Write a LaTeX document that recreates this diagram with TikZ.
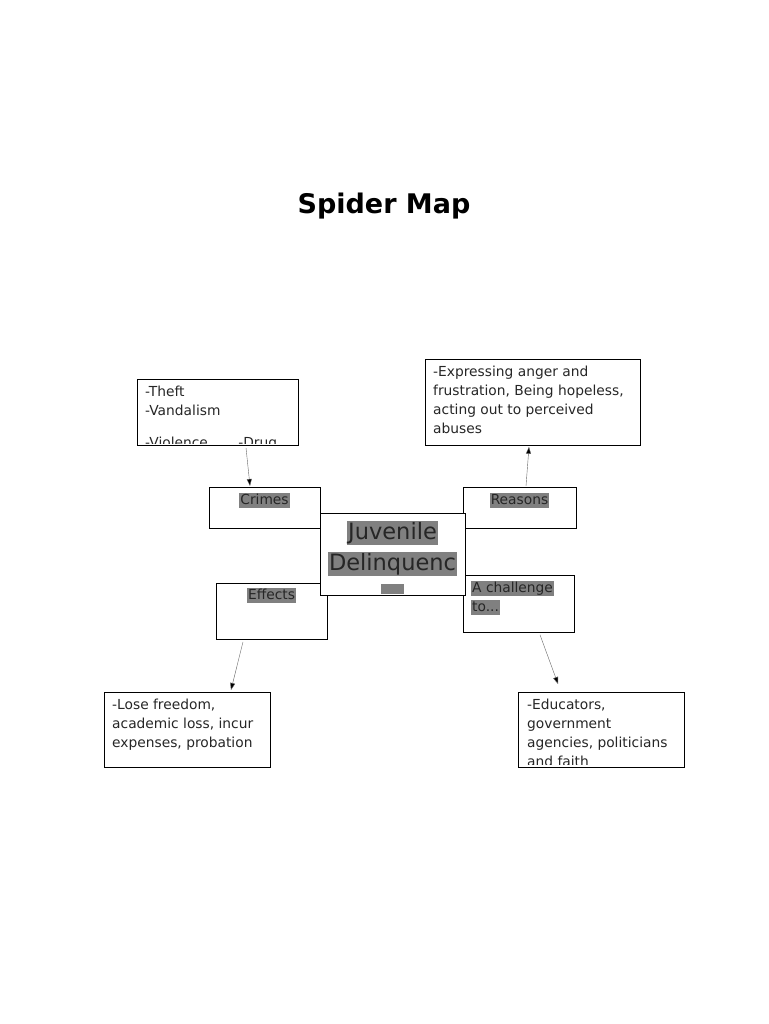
\documentclass[tikz,border=0pt]{standalone}
\usepackage{fontspec}
\setmainfont{DejaVu Sans}
\usetikzlibrary{arrows.meta,calc}
\newcommand{\hl}[1]{{\setlength\fboxsep{1pt}\colorbox{hlgray}{\vphantom{Jg}#1}}}
\definecolor{hlgray}{HTML}{808080}
\begin{document}
\begin{tikzpicture}[x=1pt,y=-1pt,
  box/.style={draw, line width=0.8pt, anchor=north west, inner sep=0pt},
  txt/.style={anchor=base west, inner sep=0pt, font=\fontsize{13.8}{19}\selectfont, text=black!85},
  big/.style={font=\fontsize{22.5}{28}\selectfont},
  conn/.style={draw=black!60, line width=0.4pt, -{Triangle[length=7pt,width=5pt,fill=black]}}]
\useasboundingbox (0,0) rectangle (768,1024);
\node[font=\bfseries\fontsize{27}{32}\selectfont] (title) at (384,206) {Spider Map};

% boxes
\node[box, minimum width=161pt, minimum height=66pt] (theft) at (137,379) {};
\node[box, minimum width=215pt, minimum height=86pt] (reasonsT) at (425,359) {};
\node[box, minimum width=111pt, minimum height=41pt] (crimes) at (209,487) {};
\node[box, minimum width=113pt, minimum height=41pt] (reasons) at (463,487) {};
\node[box, minimum width=111pt, minimum height=56pt] (effects) at (216,583) {};
\node[box, minimum width=111pt, minimum height=57pt] (challenge) at (463,575) {};
\node[box, fill=white, minimum width=145pt, minimum height=82pt] (center) at (320,513) {};
\node[box, minimum width=166pt, minimum height=75pt] (lose) at (104,692) {};
\node[box, minimum width=166pt, minimum height=75pt] (educ) at (518,692) {};

% texts
\begin{scope}
\clip (137,379) rectangle (298,443);
\node[txt] (t1) at (145,396) {-Theft};
\node[txt] (t2) at (145,415) {-Vandalism};
\node[txt] (t3) at (145,447) {-Violence\hspace{2.2em}-Drug};
\end{scope}
\node[txt] (r1) at (433,376) {-Expressing anger and};
\node[txt] (r2) at (433,395) {frustration, Being hopeless,};
\node[txt] (r3) at (433,414) {acting out to perceived};
\node[txt] (r4) at (433,433) {abuses};

\node[txt, anchor=base] (crimesT) at (264.5,504) {\hl{Crimes}};
\node[txt, anchor=base] (reasonsL) at (519.5,504) {\hl{Reasons}};
\node[txt, anchor=base] (effectsT) at (271.5,599) {\hl{Effects}};
\node[txt] (ch1) at (471,592) {\hl{A challenge}};
\node[txt] (ch2) at (471,611) {\hl{to...}};

\begin{scope}
\clip (320,513) rectangle (465,593);
\node[txt, anchor=base, big] (c1) at (392.5,539) {\hl{Juvenile}};
\node[txt, anchor=base, big] (c2) at (392.5,570) {\hl{Delinquenc}};
\node[txt, anchor=base, big] (c3) at (392.5,601) {\hl{...}};
\end{scope}

\node[txt] (l1) at (112,709) {-Lose freedom,};
\node[txt] (l2) at (112,728) {academic loss, incur};
\node[txt] (l3) at (112,747) {expenses, probation};
\begin{scope}
\clip (518,692) rectangle (684,764);
\node[txt] (e1) at (527,709) {-Educators,};
\node[txt] (e2) at (527,728) {government};
\node[txt] (e3) at (527,747) {agencies, politicians};
\node[txt] (e4) at (527,766) {and faith};
\end{scope}

% connectors
\draw[conn] ($(theft.south west)+(109,2)$) -- ($(crimes.north west)+(41,-1)$);
\draw[conn] ($(reasons.north west)+(63,-1)$) -- ($(reasonsT.south west)+(104,1)$);
\draw[conn] ($(effects.south west)+(27,2)$) -- ($(lose.north west)+(127,-2)$);
\draw[conn] ($(challenge.south west)+(77,2)$) -- ($(educ.north west)+(40,-8)$);
\end{tikzpicture}
\end{document}
